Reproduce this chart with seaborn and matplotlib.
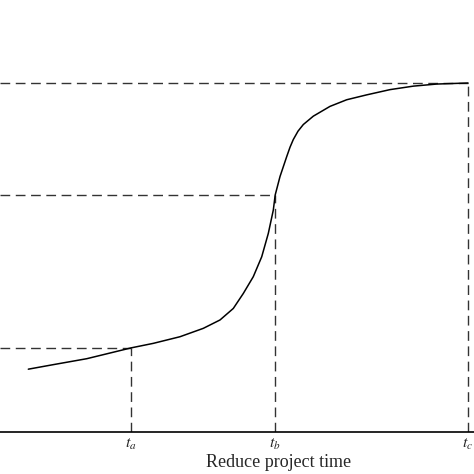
import numpy as np
import pandas as pd
import matplotlib
matplotlib.use('Agg')
import matplotlib.pyplot as plt
import seaborn as sns

# curve (time, level)
time_pts = [0.605, 1.139, 1.853, 2.80, 3.276, 3.846, 4.344, 4.701, 4.985, 5.199,
            5.412, 5.592, 5.733, 5.840, 5.88, 5.983, 6.126, 6.197, 6.267, 6.368,
            6.481, 6.695, 7.051, 7.408, 7.835, 8.333, 8.831, 9.331, 10.0]
level_pts = [0.180, 0.193, 0.210, 0.241, 0.254, 0.273, 0.297, 0.321, 0.354, 0.397,
             0.445, 0.502, 0.569, 0.636, 0.679, 0.732, 0.789, 0.816, 0.838, 0.862,
             0.881, 0.905, 0.933, 0.952, 0.966, 0.981, 0.991, 0.997, 1.0]

# reference points
tick_pos = [2.80, 5.88, 10.0]
tick_labels = [r'$t_a$', r'$t_b$', r'$t_c$']
ref_levels = [0.241, 0.679, 1.0]

curve = pd.DataFrame({'time': time_pts, 'level': level_pts})

sns.set_style('white')
plt.rcParams['font.family'] = ['Liberation Serif', 'DejaVu Serif']
plt.rcParams['mathtext.fontset'] = 'stix'

fig = plt.figure(figsize=(4.74, 4.74), dpi=100)
ax = fig.add_axes([0, 42 / 474, 1, 432 / 474])

# dashed guides
for t, lv in zip(tick_pos, ref_levels):
    ax.plot([0, t], [lv, lv], color='#333333', lw=1.0, ls=(0, (7, 4)))
    ax.plot([t, t], [0, lv], color='#333333', lw=1.0, ls=(0, (7, 4)))

sns.lineplot(data=curve, x='time', y='level', color='black', lw=1.1, ax=ax,
             sort=False)

ax.set_xlim(0, 474 / 46.8)
ax.set_ylim(0, 432 / 349)
ax.set_xticks(tick_pos)
ax.set_xticklabels(tick_labels, fontsize=11.5)
ax.set_yticks([])
ax.tick_params(axis='x', length=0, pad=3)
for s in ['left', 'right', 'top']:
    ax.spines[s].set_visible(False)
ax.spines['bottom'].set_color('black')
ax.spines['bottom'].set_linewidth(1.2)
ax.set_xlabel('Reduce project time', fontsize=13)
ax.xaxis.set_label_coords(279 / 474, -0.052)
ax.set_ylabel('')

fig.savefig('out.png', dpi=100)
